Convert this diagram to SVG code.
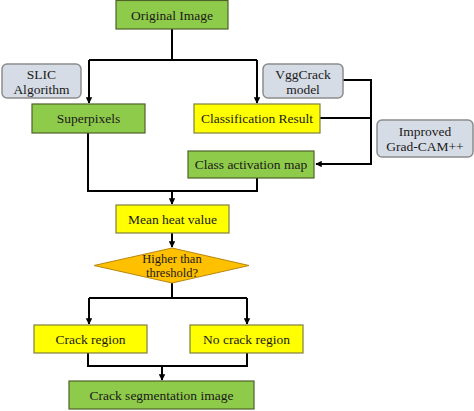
<svg xmlns="http://www.w3.org/2000/svg" width="474" height="411" viewBox="0 0 474 411">
<style>
.g{fill:#8fcb4a;stroke:#4f6228;stroke-width:1.2}
.y{fill:#ffff00;stroke:#7f7f3f;stroke-width:1.2}
.s{fill:#d6dce5;stroke:#8c8c8c;stroke-width:1.5}
.d{fill:#ffc000;stroke:#b8860b;stroke-width:1}
text{font-family:"Liberation Serif","Times New Roman",serif;font-size:13.5px;fill:#1a1a1a;text-anchor:middle}
.c{fill:none;stroke:#000;stroke-width:2}
</style>
<defs>
<marker id="a" viewBox="0 0 10 10" refX="9" refY="5" markerWidth="3.2" markerHeight="3.2" orient="auto" markerUnits="strokeWidth">
<path d="M0,0 L10,5 L0,10 z" fill="#000"/>
</marker>
</defs>
<rect width="474" height="411" fill="#fff"/>
<g id="connectors">
<path class="c" d="M172,29 V60"/>
<path class="c" d="M89,60 H257"/>
<path class="c" d="M89,60 V103" marker-end="url(#a)"/>
<path class="c" d="M257,60 V103" marker-end="url(#a)"/>
<path class="c" d="M343,80 H371 V164 H316" marker-end="url(#a)"/>
<path class="c" d="M320,118 H371"/>
<path class="c" d="M88,133 V191 H257 V178"/>
<path class="c" d="M172,191 V204" marker-end="url(#a)"/>
<path class="c" d="M172,233 V247" marker-end="url(#a)"/>
<path class="c" d="M172,283 V298"/>
<path class="c" d="M89,298 H247"/>
<path class="c" d="M89,298 V324" marker-end="url(#a)"/>
<path class="c" d="M247,298 V324" marker-end="url(#a)"/>
<path class="c" d="M88,353 V366 H247 V353"/>
<path class="c" d="M162,366 V380" marker-end="url(#a)"/>
</g>
<g id="original-image"><rect class="g" x="116" y="0.5" width="112" height="28.5"/><text x="172" y="19.5">Original Image</text></g>
<g id="slic"><rect class="s" x="2" y="64" width="79" height="34" rx="5"/><text x="41.5" y="78.5">SLIC</text><text x="41.5" y="93.5">Algorithm</text></g>
<g id="vggcrack"><rect class="s" x="263" y="64" width="80" height="34" rx="5"/><text x="303" y="78.5">VggCrack</text><text x="303" y="93.5">model</text></g>
<g id="superpixels"><rect class="g" x="32" y="104" width="113" height="29"/><text x="88.5" y="123">Superpixels</text></g>
<g id="classification"><rect class="y" x="194" y="104" width="126" height="29"/><text x="257" y="123">Classification Result</text></g>
<g id="gradcam"><rect class="s" x="377" y="120" width="96" height="37" rx="5"/><text x="425" y="135.5">Improved</text><text x="425" y="151">Grad-CAM++</text></g>
<g id="cam"><rect class="g" x="188" y="151" width="126" height="27"/><text x="251" y="169">Class activation map</text></g>
<g id="mean-heat"><rect class="y" x="116" y="205" width="113" height="28"/><text x="172.5" y="223.5">Mean heat value</text></g>
<g id="threshold"><polygon class="d" points="172,248 249,265.5 172,283 94,265.5"/><text x="172" y="263" style="font-size:12.5px">Higher than</text><text x="172" y="277" style="font-size:12.5px">threshold?</text></g>
<g id="crack-region"><rect class="y" x="34" y="325" width="113" height="28"/><text x="90.5" y="344">Crack region</text></g>
<g id="no-crack-region"><rect class="y" x="190" y="325" width="113" height="28"/><text x="246.5" y="344">No crack region</text></g>
<g id="segmentation"><rect class="g" x="69" y="381" width="185" height="28"/><text x="161.5" y="400">Crack segmentation image</text></g>
</svg>
